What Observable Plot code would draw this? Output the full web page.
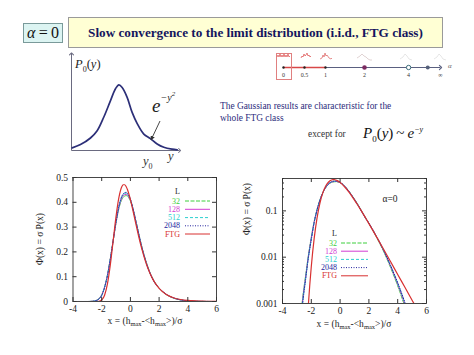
<!DOCTYPE html>
<html><head><meta charset="utf-8">
<script src="https://cdn.jsdelivr.net/npm/d3@7"></script>
<script src="https://cdn.jsdelivr.net/npm/@observablehq/plot@0.6"></script>
<style>
html,body{margin:0;padding:0;background:#fff;}
#slide{position:relative;width:474px;height:355px;overflow:hidden;font-family:"Liberation Serif","Times New Roman",serif;}
.abs{position:absolute;white-space:nowrap;line-height:1;}
sub,sup{line-height:0;}
</style></head><body><div id="slide"></div>
<script>
// ---------- text ----------
const titleText = "Slow convergence to the limit distribution (i.i.d., FTG class)";
const noteLines = ["The Gaussian results are characteristic for the", "whole FTG class"];
const exceptText = "except for";

// ---------- main charts: Phi(x) = sigma P(x) ----------
const xGrid = [-4, -3, -2.8, -2.6, -2.4, -2.2, -2.0, -1.8, -1.6, -1.4, -1.2, -1.0, -0.8, -0.6, -0.5, -0.4, -0.3, -0.2, 0, 0.2, 0.4, 0.6, 0.8, 1.0, 1.2, 1.4, 1.6, 1.8, 2.0, 2.5, 3.0, 3.5, 4.0, 4.5, 5.0, 5.5, 6];
const phi32   = [1e-7, 5e-5, 3e-4, 0.0013, 0.0039, 0.011, 0.027, 0.059, 0.107, 0.173, 0.246, 0.317, 0.375, 0.411, 0.42, 0.425, 0.427, 0.424, 0.405, 0.368, 0.32, 0.269, 0.221, 0.179, 0.143, 0.112, 0.088, 0.069, 0.054, 0.028, 0.0138, 0.006, 0.0024, 0.00085, 0.00026, 0.00007, 0.00001];
const phi128  = [1e-7, 4e-5, 2.5e-4, 0.0012, 0.0036, 0.0106, 0.026, 0.058, 0.106, 0.172, 0.246, 0.319, 0.379, 0.416, 0.426, 0.431, 0.432, 0.428, 0.408, 0.369, 0.319, 0.268, 0.219, 0.177, 0.141, 0.111, 0.087, 0.068, 0.054, 0.029, 0.0144, 0.0064, 0.0026, 0.00095, 0.0003, 0.00008, 0.00001];
const phi512  = [1e-7, 3.5e-5, 2.2e-4, 0.0011, 0.0034, 0.0102, 0.025, 0.057, 0.105, 0.171, 0.246, 0.321, 0.383, 0.421, 0.431, 0.436, 0.437, 0.432, 0.411, 0.37, 0.319, 0.267, 0.218, 0.176, 0.14, 0.11, 0.086, 0.067, 0.054, 0.029, 0.0145, 0.0066, 0.0027, 0.001, 0.00032, 0.00009, 0.00002];
const phi2048 = [1e-7, 3e-5, 2e-4, 0.001, 0.0032, 0.0098, 0.024, 0.056, 0.104, 0.17, 0.246, 0.322, 0.385, 0.424, 0.434, 0.439, 0.44, 0.435, 0.413, 0.371, 0.319, 0.266, 0.217, 0.175, 0.139, 0.109, 0.085, 0.067, 0.054, 0.029, 0.0146, 0.0067, 0.0028, 0.00105, 0.00035, 0.0001, 0.00002];
const phiFTG  = [1e-12, 1e-10, 3.7e-8, 2.9e-6, 7.9e-5, 9.7e-4, 0.0063, 0.0255, 0.0709, 0.1475, 0.2452, 0.343, 0.4195, 0.4626, 0.4708, 0.4708, 0.4636, 0.4504, 0.4108, 0.3609, 0.3081, 0.2571, 0.2111, 0.171, 0.137, 0.1089, 0.0861, 0.0677, 0.0531, 0.0285, 0.0152, 0.00805, 0.00424, 0.00224, 0.00118, 0.00062, 0.00033];
const seriesNames = ["32", "128", "512", "2048", "FTG"];
const seriesValues = [phi32, phi128, phi512, phi2048, phiFTG];
const seriesColors = ["#3ccf3c", "#d23cd2", "#2ccfd0", "#24249e", "#d83030"];
const seriesDash = ["4,1.5", null, "3,2", "1,1.5", null];
const legendTitle = "L";

const xTicks = [-4, -2, 0, 2, 4, 6];
const yTicksLin = [0, 0.1, 0.2, 0.3, 0.4, 0.5];
const yTicksLog = [0.001, 0.01, 0.1];
const yMinorLog = [0.002,0.003,0.004,0.005,0.006,0.007,0.008,0.009,0.02,0.03,0.04,0.05,0.06,0.07,0.08,0.09,0.2,0.3,0.4,0.5];

// ---------- sketch of P0(y) ----------
const sketchY = [0.06, 0.85, 1.79, 2.42, 3.05, 3.68, 4.15, 4.47, 4.78, 5.25, 5.72, 6.20, 6.82, 7.45, 8.08, 8.71, 9.5, 9.97];
const sketchP = [0.04, 0.09, 0.19, 0.30, 0.51, 0.76, 0.94, 1.0, 0.96, 0.81, 0.58, 0.41, 0.25, 0.18, 0.10, 0.05, 0.02, 0.01];

// ---------- alpha line ----------
const alphaTicks = [0, 0.5, 1, 2, 4, 5.5];
const alphaTickLabels = ["0", "0.5", "1", "2", "4", "\u221e"];
const alphaKnots = [0, 1, 2, 4, 5.5];          // non-uniform axis of the diagram
const alphaKnotUnits = [0, 1, 1.93, 2.98, 3.74]; // relative spacing of those knots

const rows = seriesNames.flatMap((s, i) => xGrid.map((x, j) => ({series: s, x, phi: seriesValues[i][j]})));
const slide = document.getElementById("slide");
function place(el, left, top) {
  const d = document.createElement("div");
  d.className = "abs"; d.style.left = left + "px"; d.style.top = top + "px";
  d.appendChild(el); slide.appendChild(d); return d;
}
function html(str, left, top, style) {
  const d = document.createElement("div");
  d.className = "abs"; d.style.left = left + "px"; d.style.top = top + "px";
  d.style.cssText += style || ""; d.innerHTML = str; slide.appendChild(d); return d;
}
const fmt = d => String(d);

function mainChart(log) {
  const W = 230 + (log ? 9 : 0);
  const m = log ? {t: 8, b: 20, l: 47, r: 48} : {t: 7, b: 19, l: 72.5, r: 14};
  const H = log ? 153 : 150;
  const fh = H - m.t - m.b, fw = W - m.l - m.r;
  const yT = log ? yTicksLog : yTicksLin;
  const marks = [];
  seriesNames.forEach((s, i) => {
    marks.push(Plot.line(rows.filter(r => r.series === s), {
      x: "x", y: "phi", stroke: seriesColors[i], strokeWidth: i === 4 ? 1.2 : 1,
      strokeDasharray: seriesDash[i] || undefined, curve: "monotone-x", clip: true
    }));
  });
  marks.push(Plot.frame({stroke: "#333", strokeWidth: 0.9}));
  marks.push(Plot.ruleX(xTicks, {insetTop: fh - 4, stroke: "#333"}));
  marks.push(Plot.ruleX(xTicks, {insetBottom: fh - 4, stroke: "#333"}));
  marks.push(Plot.ruleY(yT, {insetRight: fw - 4, stroke: "#333"}));
  marks.push(Plot.ruleY(yT, {insetLeft: fw - 4, stroke: "#333"}));
  if (log) {
    marks.push(Plot.ruleY(yMinorLog, {insetRight: fw - 2, stroke: "#333"}));
    marks.push(Plot.ruleY(yMinorLog, {insetLeft: fw - 2, stroke: "#333"}));
  }
  return Plot.plot({
    width: W, height: H, marginTop: m.t, marginBottom: m.b, marginLeft: m.l, marginRight: m.r,
    style: {fontFamily: "'Liberation Serif', serif", fontSize: "9.5px", color: "#222", background: "transparent"},
    x: {domain: [-4, 6], ticks: xTicks, tickSize: 0, tickPadding: 4, tickFormat: fmt, label: null},
    y: log ? {type: "log", domain: [0.001, 0.5], ticks: yTicksLog, tickSize: 0, tickPadding: 5, tickFormat: fmt, label: null}
           : {domain: [0, 0.5], ticks: yTicksLin, tickSize: 0, tickPadding: 5, tickFormat: fmt, label: null},
    marks
  });
}
place(mainChart(false), 0, 170);
place(mainChart(true), 235, 170);

// sketch
const sketchRows = sketchY.map((y, i) => ({y, p: sketchP[i]}));
const sketchX = [0, 10.2], sketchTop = 1.47;
place(Plot.plot({
  width: 130, height: 115, marginLeft: 11, marginRight: 13, marginTop: 6.5, marginBottom: 10,
  x: {domain: [0, 10], axis: null}, y: {domain: [0, 1.5], axis: null},
  style: {background: "transparent"},
  marks: [
    Plot.link([0], {x1: sketchX[0], y1: 0, x2: sketchX[1], y2: 0, stroke: "#6a6a80", strokeWidth: 1, markerEnd: "arrow"}),
    Plot.link([0], {x1: sketchX[0], y1: 0, x2: sketchX[0], y2: sketchTop, stroke: "#6a6a80", strokeWidth: 1, markerEnd: "arrow"}),
    Plot.line(sketchRows, {x: "y", y: "p", stroke: "#2c2f78", strokeWidth: 1.7, curve: "catmull-rom"})
  ]
}), 60, 45);

// alpha line
const alphaPos = d3.scaleLinear(alphaKnots, alphaKnotUnits);
place(Plot.plot({
  width: 214, height: 35, marginTop: 0, marginBottom: 0, marginLeft: 23, marginRight: 34,
  x: {transform: alphaPos, domain: [0, alphaKnotUnits[4]], axis: null},
  y: {domain: [-1, 1], range: [35, 3], axis: null},
  style: {background: "transparent", fontFamily: "'Liberation Serif', serif"},
  marks: [
    Plot.link([0], {x1: alphaTicks[2], x2: alphaTicks[5], y1: 0, y2: 0, stroke: "#5a6080", strokeWidth: 1.1, markerEnd: "arrow"}),
    Plot.link([0], {x1: alphaTicks[0], x2: alphaTicks[2], y1: 0, y2: 0, stroke: "#d84848", strokeWidth: 1.4}),
    Plot.dot(alphaTicks.slice(0, 3), {x: d => d, y: 0, r: 1.2, fill: "#222"}),
    Plot.dot([alphaTicks[3]], {x: d => d, y: 0, r: 2.3, fill: "#7a2a60"}),
    Plot.dot([alphaTicks[4]], {x: d => d, y: 0, r: 2.2, fill: "#fff", stroke: "#3a6a78", strokeWidth: 1}),
    Plot.dot([4.9], {x: d => d, y: 0, r: 2, fill: "#55607a"}),
    Plot.text(alphaTicks, {x: d => d, y: 0, text: (d, i) => alphaTickLabels[i], dy: 8, fontSize: 6, fill: "#333"})
  ]
}), 260, 48);
html("<i>\u03b1</i>", 448, 63, "font-size:7px;color:#666;");
html("", 276, 53, "width:16px;height:27px;border:1px solid #e08080;box-sizing:border-box;");

// title
html("<i>\u03b1</i>&thinsp;=&thinsp;0", 23, 23, "width:40px;height:20px;box-sizing:border-box;background:#dcf4f2;border:1px solid #7a9a9a;font-size:16px;display:flex;align-items:center;justify-content:center;color:#111;");
html(titleText, 68, 17, "width:375px;height:31px;box-sizing:border-box;background:#ffffd4;border:1px solid #9a9a9a;font-size:13.2px;font-weight:bold;color:#15155e;display:flex;align-items:center;justify-content:center;");

// sketch labels
html("<i>P</i><sub style='font-size:8px'>0</sub>(<i>y</i>)", 75, 58, "font-size:12.5px;color:#222;");
html("<i>e</i><sup style='font-size:10px;font-style:italic;position:relative;top:-4px'>\u2212y<span style='font-size:7px;vertical-align:5px'>2</span></sup>", 152, 96, "font-size:19px;color:#222;");
html("<i>y</i><sub style='font-size:8px'>0</sub>", 143, 155, "font-size:12.5px;color:#333;");
html("<i>y</i>", 168, 150, "font-size:12.5px;color:#333;");

// note text
html(noteLines.join("<br>"), 220, 100, "font-size:9.4px;line-height:12px;color:#2c2c7c;");
html(exceptText, 308, 130, "font-size:9.4px;color:#333;");
html("<i>P</i><sub style='font-size:9px'>0</sub>(<i>y</i>)&thinsp;~&thinsp;<i>e</i><sup style='font-size:8px;font-style:italic'>\u2212y</sup>", 363, 126, "font-size:15px;color:#111;");

// overlay svg: legends, axis labels, arrow, squiggles
const svg = d3.select(slide).append("svg").attr("width", 474).attr("height", 355)
  .style("position", "absolute").style("left", 0).style("top", 0)
  .style("font-family", "'Liberation Serif', serif");
function legendAt(textRight, lx1, lx2, titleY, rowYs) {
  svg.append("text").attr("x", textRight).attr("y", titleY).attr("text-anchor", "end")
    .attr("dominant-baseline", "central").attr("font-size", 8).attr("fill", "#222").text(legendTitle);
  seriesNames.forEach((s, i) => {
    svg.append("text").attr("x", textRight).attr("y", rowYs[i]).attr("text-anchor", "end")
      .attr("dominant-baseline", "central").attr("font-size", 8).attr("fill", seriesColors[i]).text(s);
    svg.append("line").attr("x1", lx1).attr("x2", lx2).attr("y1", rowYs[i]).attr("y2", rowYs[i])
      .attr("stroke", seriesColors[i]).attr("stroke-width", 1).attr("stroke-dasharray", seriesDash[i]);
  });
}
legendAt(180, 185, 210, 191, [201, 209.3, 217.6, 225.8, 234]);
legendAt(337, 341, 368, 233, [243, 251.2, 259.4, 267.6, 275.8]);

function xLabel(cx, cy) {
  const t = svg.append("text").attr("x", cx).attr("y", cy).attr("text-anchor", "middle")
    .attr("dominant-baseline", "central").attr("font-size", 9.5).attr("fill", "#222");
  t.append("tspan").text("x = (h");
  t.append("tspan").attr("font-size", 6.5).attr("dy", 2).text("max");
  t.append("tspan").attr("dy", -2).text("-<h");
  t.append("tspan").attr("font-size", 6.5).attr("dy", 2).text("max");
  t.append("tspan").attr("dy", -2).text(">)/\u03c3");
}
xLabel(145, 321);
xLabel(354, 324);
function yLabel(cx, cy) {
  svg.append("text").attr("transform", `translate(${cx},${cy}) rotate(-90)`).attr("text-anchor", "middle")
    .attr("dominant-baseline", "central").attr("font-size", 9.5).attr("fill", "#222").text("\u03a6(x) = \u03c3 P(x)");
}
yLabel(40, 239);
yLabel(247, 209);
svg.append("text").attr("x", 390).attr("y", 199).attr("text-anchor", "middle").attr("dominant-baseline", "central")
  .attr("font-size", 9.5).attr("fill", "#222").text("\u03b1=0");

// annotation arrow in sketch
svg.append("defs").append("marker").attr("id", "ah").attr("viewBox", "0 0 10 10").attr("refX", 9).attr("refY", 5)
  .attr("markerWidth", 5).attr("markerHeight", 5).attr("orient", "auto")
  .append("path").attr("d", "M0,0L10,5L0,10z").attr("fill", "#333");
svg.append("line").attr("x1", 160).attr("y1", 121).attr("x2", 151).attr("y2", 140)
  .attr("stroke", "#333").attr("stroke-width", 0.9).attr("marker-end", "url(#ah)");

// tiny decorative landscapes above the alpha line
const sq = [
  ["M277,57l1,-2l1,2l1,-3l1,3l1,-2l1,2l1,-3l1,3l1,-2l1,2l1,-3l1,3l1,-1", "#e06060"],
  ["M301,58l1,-2l1,1l1,-3l1,2l1,-1l1,-2l1,3l1,-1l1,2l1,-1", "#e06060"],
  ["M320,59l2,-1l1,-3l1,2l1,-4l1,3l1,-1l2,3l2,1l1,-1", "#e07070"],
  ["M357,58l3,-2l2,-2l2,2l2,1l2,2l2,1l2,0", "#d8c8c8"],
  ["M400,59l3,-2l2,-3l2,2l2,3l3,1", "#e0e0e0"],
  ["M434,59l3,-2l2,-3l2,2l2,3l3,1", "#e0e0e0"]
];
sq.forEach(([d, c]) => svg.append("path").attr("d", d).attr("fill", "none").attr("stroke", c).attr("stroke-width", 0.8));
</script></body></html>
